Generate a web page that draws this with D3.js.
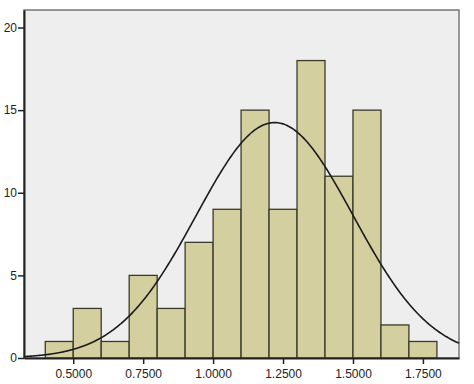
<!DOCTYPE html>
<html>
<head>
<meta charset="utf-8">
<script src="https://cdn.jsdelivr.net/npm/d3@7"></script>
<style>
  html, body { margin: 0; padding: 0; background: #ffffff; }
  svg { display: block; }
  text { font-family: "Liberation Sans", Arial, sans-serif; }
</style>
</head>
<body>
<svg id="chart" width="474" height="384"></svg>
<script>
// Data
const binStarts = [0.4, 0.5, 0.6, 0.7, 0.8, 0.9, 1.0, 1.1, 1.2, 1.3, 1.4, 1.5, 1.6, 1.7];
const counts    = [1, 3, 1, 5, 3, 7, 9, 15, 9, 18, 11, 15, 2, 1];
const binWidth  = 0.1;
const xTicks = [0.5, 0.75, 1.0, 1.25, 1.5, 1.75];
const yTicks = [0, 5, 10, 15, 20];
const normalMean = 1.22;
const normalSD = 0.28;

const W = 474, H = 384;
const margin = { left: 24, right: 15, top: 10, bottom: 26 };
const svg = d3.select("#chart");

const x = d3.scaleLinear().domain([0.324, 1.879]).range([margin.left, W - margin.right]);
const y = d3.scaleLinear().domain([0, 21.06]).range([H - margin.bottom, margin.top]);

// plot background
svg.append("rect")
  .attr("x", margin.left).attr("y", margin.top)
  .attr("width", W - margin.left - margin.right)
  .attr("height", H - margin.top - margin.bottom)
  .attr("fill", "#eeeeee")
  .attr("stroke", "#777777").attr("stroke-width", 1.5);

// bars
svg.append("g").selectAll("rect")
  .data(binStarts.map((s, i) => ({ s, c: counts[i] })))
  .join("rect")
  .attr("x", d => x(d.s))
  .attr("y", d => y(d.c))
  .attr("width", d => x(d.s + binWidth) - x(d.s))
  .attr("height", d => y(0) - y(d.c))
  .attr("fill", "#d4cf9f")
  .attr("stroke", "#3b3a2c")
  .attr("stroke-width", 1.3);

// normal curve
const N = d3.sum(counts);
const xs = d3.range(0, 301).map(i => x.domain()[0] + (x.domain()[1] - x.domain()[0]) * i / 300);
const curve = xs.map(v => [v, N * binWidth / (normalSD * Math.sqrt(2 * Math.PI)) * Math.exp(-0.5 * Math.pow((v - normalMean) / normalSD, 2))]);
svg.append("path")
  .datum(curve)
  .attr("fill", "none")
  .attr("stroke", "#1a1a1a")
  .attr("stroke-width", 1.6)
  .attr("d", d3.line().x(d => x(d[0])).y(d => y(d[1])).curve(d3.curveBasis));

// axes
const xAxis = d3.axisBottom(x).tickValues(xTicks).tickFormat(d3.format(".4f")).tickSize(6).tickSizeOuter(0);
const gx = svg.append("g").attr("transform", `translate(0,${H - margin.bottom})`).call(xAxis);
const yAxis = d3.axisLeft(y).tickValues(yTicks).tickSize(6).tickSizeOuter(0);
const gy = svg.append("g").attr("transform", `translate(${margin.left},0)`).call(yAxis);

[gx, gy].forEach(g => {
  g.select(".domain").attr("stroke", "#222222").attr("stroke-width", 2);
  g.selectAll(".tick line").attr("stroke", "#222222").attr("stroke-width", 1.5);
  g.selectAll(".tick text").attr("fill", "#222222").style("font-size", "12px")
    .style("font-family", "'Liberation Sans', Arial, sans-serif");
});
gx.selectAll(".tick text").attr("dy", "0.95em");
gy.selectAll(".tick text").attr("x", -7);
</script>
</body>
</html>
